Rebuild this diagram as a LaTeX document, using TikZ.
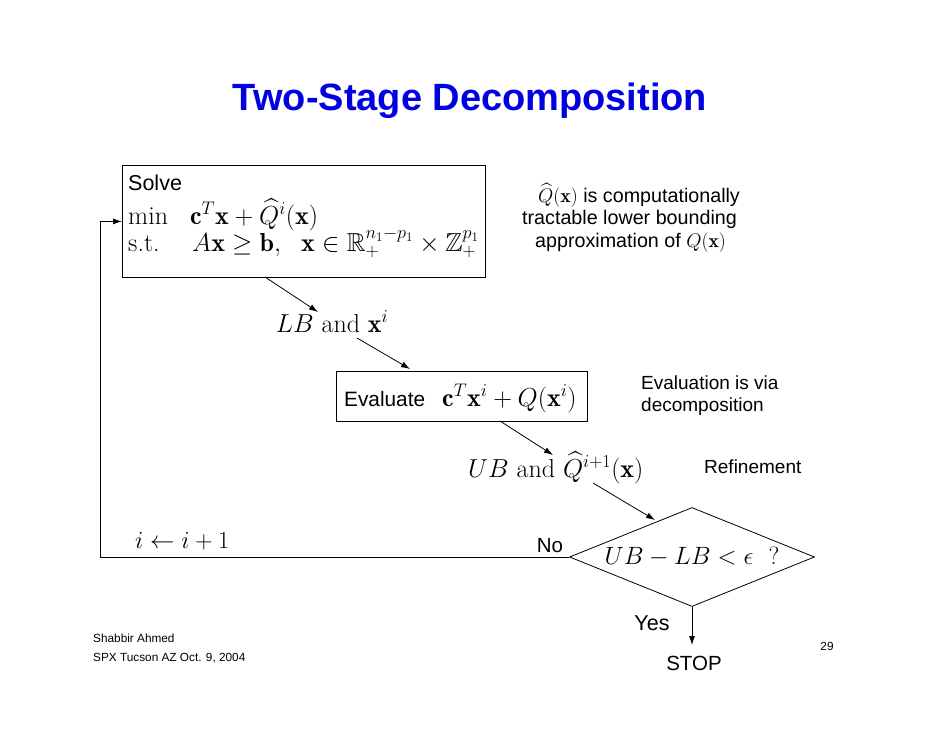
\documentclass[tikz,border=0pt]{standalone}
\usepackage{amsmath,amssymb}
\usepackage{fix-cm}
\usepackage{fontspec}
\newfontfamily\arial{Liberation Sans}
\usetikzlibrary{arrows.meta,shapes.geometric,calc}
\definecolor{titleblue}{RGB}{0,0,225}
\tikzset{
  arr/.style={-{Latex[length=9pt,width=6pt]}, line width=0.8pt},
  box/.style={draw, line width=0.8pt, inner sep=0pt},
  mtext/.style={font=\fontsize{26}{30}\selectfont, inner sep=0pt},
  atext/.style={font=\arial\fontsize{20.5}{24}\selectfont, inner sep=0pt},
  ntext/.style={font=\arial\fontsize{19.7}{24}\selectfont, inner sep=0pt},
  etext/.style={font=\arial\fontsize{19}{24}\selectfont, inner sep=0pt},
  ftext/.style={font=\arial\fontsize{11.8}{14}\selectfont, inner sep=0pt},
}
\begin{document}
\begin{tikzpicture}[x=1pt,y=-1pt]
\useasboundingbox[fill=white] (0,0) rectangle (942,728);

% title
\node[anchor=base, font=\arial\bfseries\fontsize{38}{44}\selectfont, text=titleblue, inner sep=0pt] (title) at (470,110) {Two-Stage Decomposition};

% solve box
\node[box, minimum width=363pt, minimum height=112pt, anchor=north west] (solve) at (122,165) {};
\node[atext, font=\arial\fontsize{21.5}{24}\selectfont, anchor=base west] (solvelbl) at (128,190) {Solve};
\node[mtext, anchor=base west] (minl) at (128,224) {$\min$};
\node[mtext, anchor=base west] (minexp) at (190,224) {$\mathbf{c}^T\mathbf{x}+\widehat{Q}^i(\mathbf{x})$};
\node[mtext, anchor=base west] (stl) at (128,251) {s.t.};
\node[mtext, anchor=base west] (stexp) at (192,251) {$A\mathbf{x}\ge\mathbf{b},\ \ \mathbf{x}\in\mathbb{R}_+^{n_1-p_1}\times\mathbb{Z}_+^{p_1}$};

% note
\node[ntext, anchor=base west] (n1) at (538,202) {$\widehat{Q}(\mathbf{x})$ is computationally};
\node[ntext, anchor=base west] (n2) at (522,224) {tractable lower bounding};
\node[ntext, anchor=base west] (n3) at (535,247) {approximation of $Q(\mathbf{x})$};

% LB and x
\node[mtext, anchor=base] (lbx) at (332,332) {$LB$ and $\mathbf{x}^i$};

% evaluate box
\node[box, minimum width=251pt, minimum height=50pt, anchor=north west] (eval) at (336,371) {};
\node[atext, font=\arial\fontsize{20.8}{24}\selectfont, anchor=base west] (evallbl) at (344,406) {Evaluate};
\node[mtext, anchor=base west] (evalexp) at (442,406) {$\mathbf{c}^T\mathbf{x}^i+Q(\mathbf{x}^i)$};
\node[etext, anchor=base west] (e1) at (641,389) {Evaluation is via};
\node[etext, anchor=base west] (e2) at (641,411) {decomposition};

% UB and Q
\node[mtext, anchor=base west] (ubq) at (468,477) {$UB$ and $\widehat{Q}^{i+1}(\mathbf{x})$};
\node[etext, anchor=base west] (refine) at (704,473) {Refinement};

% decision
\node[draw, diamond, minimum width=245pt, minimum height=99pt, inner sep=0pt, line width=0.8pt] (dec) at (692,557) {};
\node[font=\fontsize{25}{30}\selectfont, inner sep=0pt, anchor=base] (dectext) at (692,564) {$UB-LB<\epsilon\ \ ?$};
\node[atext, anchor=base] (no) at (550,552) {No};
\node[atext, font=\arial\fontsize{21.5}{24}\selectfont, anchor=base] (yes) at (652,630) {Yes};
\node[atext, anchor=base] (stop) at (694,670) {STOP};
\node[font=\fontsize{24.5}{28}\selectfont, inner sep=0pt, anchor=base west] (inc) at (135,548) {$i\leftarrow i+1$};

% footer
\node[ftext, anchor=base west] (f1) at (93,642) {Shabbir Ahmed};
\node[ftext, anchor=base west] (f2) at (93,661) {SPX Tucson AZ Oct. 9, 2004};
\node[ftext, anchor=base] (pg) at (827,650) {29};

% connectors
\coordinate (a1s) at (265,277);
\coordinate (a1e) at (318,312);
\coordinate (a2s) at (357,338);
\coordinate (a2e) at (410,369);
\coordinate (a3s) at (500,421);
\coordinate (a3e) at (553,455);
\coordinate (a4s) at (593,483);
\coordinate (a4e) at (655,520);
\coordinate (loopc) at (100,557);
\coordinate (stopc) at (692,645);
\draw[arr] (a1s) -- (a1e);
\draw[arr] (a2s) -- (a2e);
\draw[arr] (a3s) -- (a3e);
\draw[arr] (a4s) -- (a4e);
\draw[arr] (dec.west) -- (loopc) |- (solve.west);
\draw[arr] (dec.south) -- (stopc);
\end{tikzpicture}
\end{document}
